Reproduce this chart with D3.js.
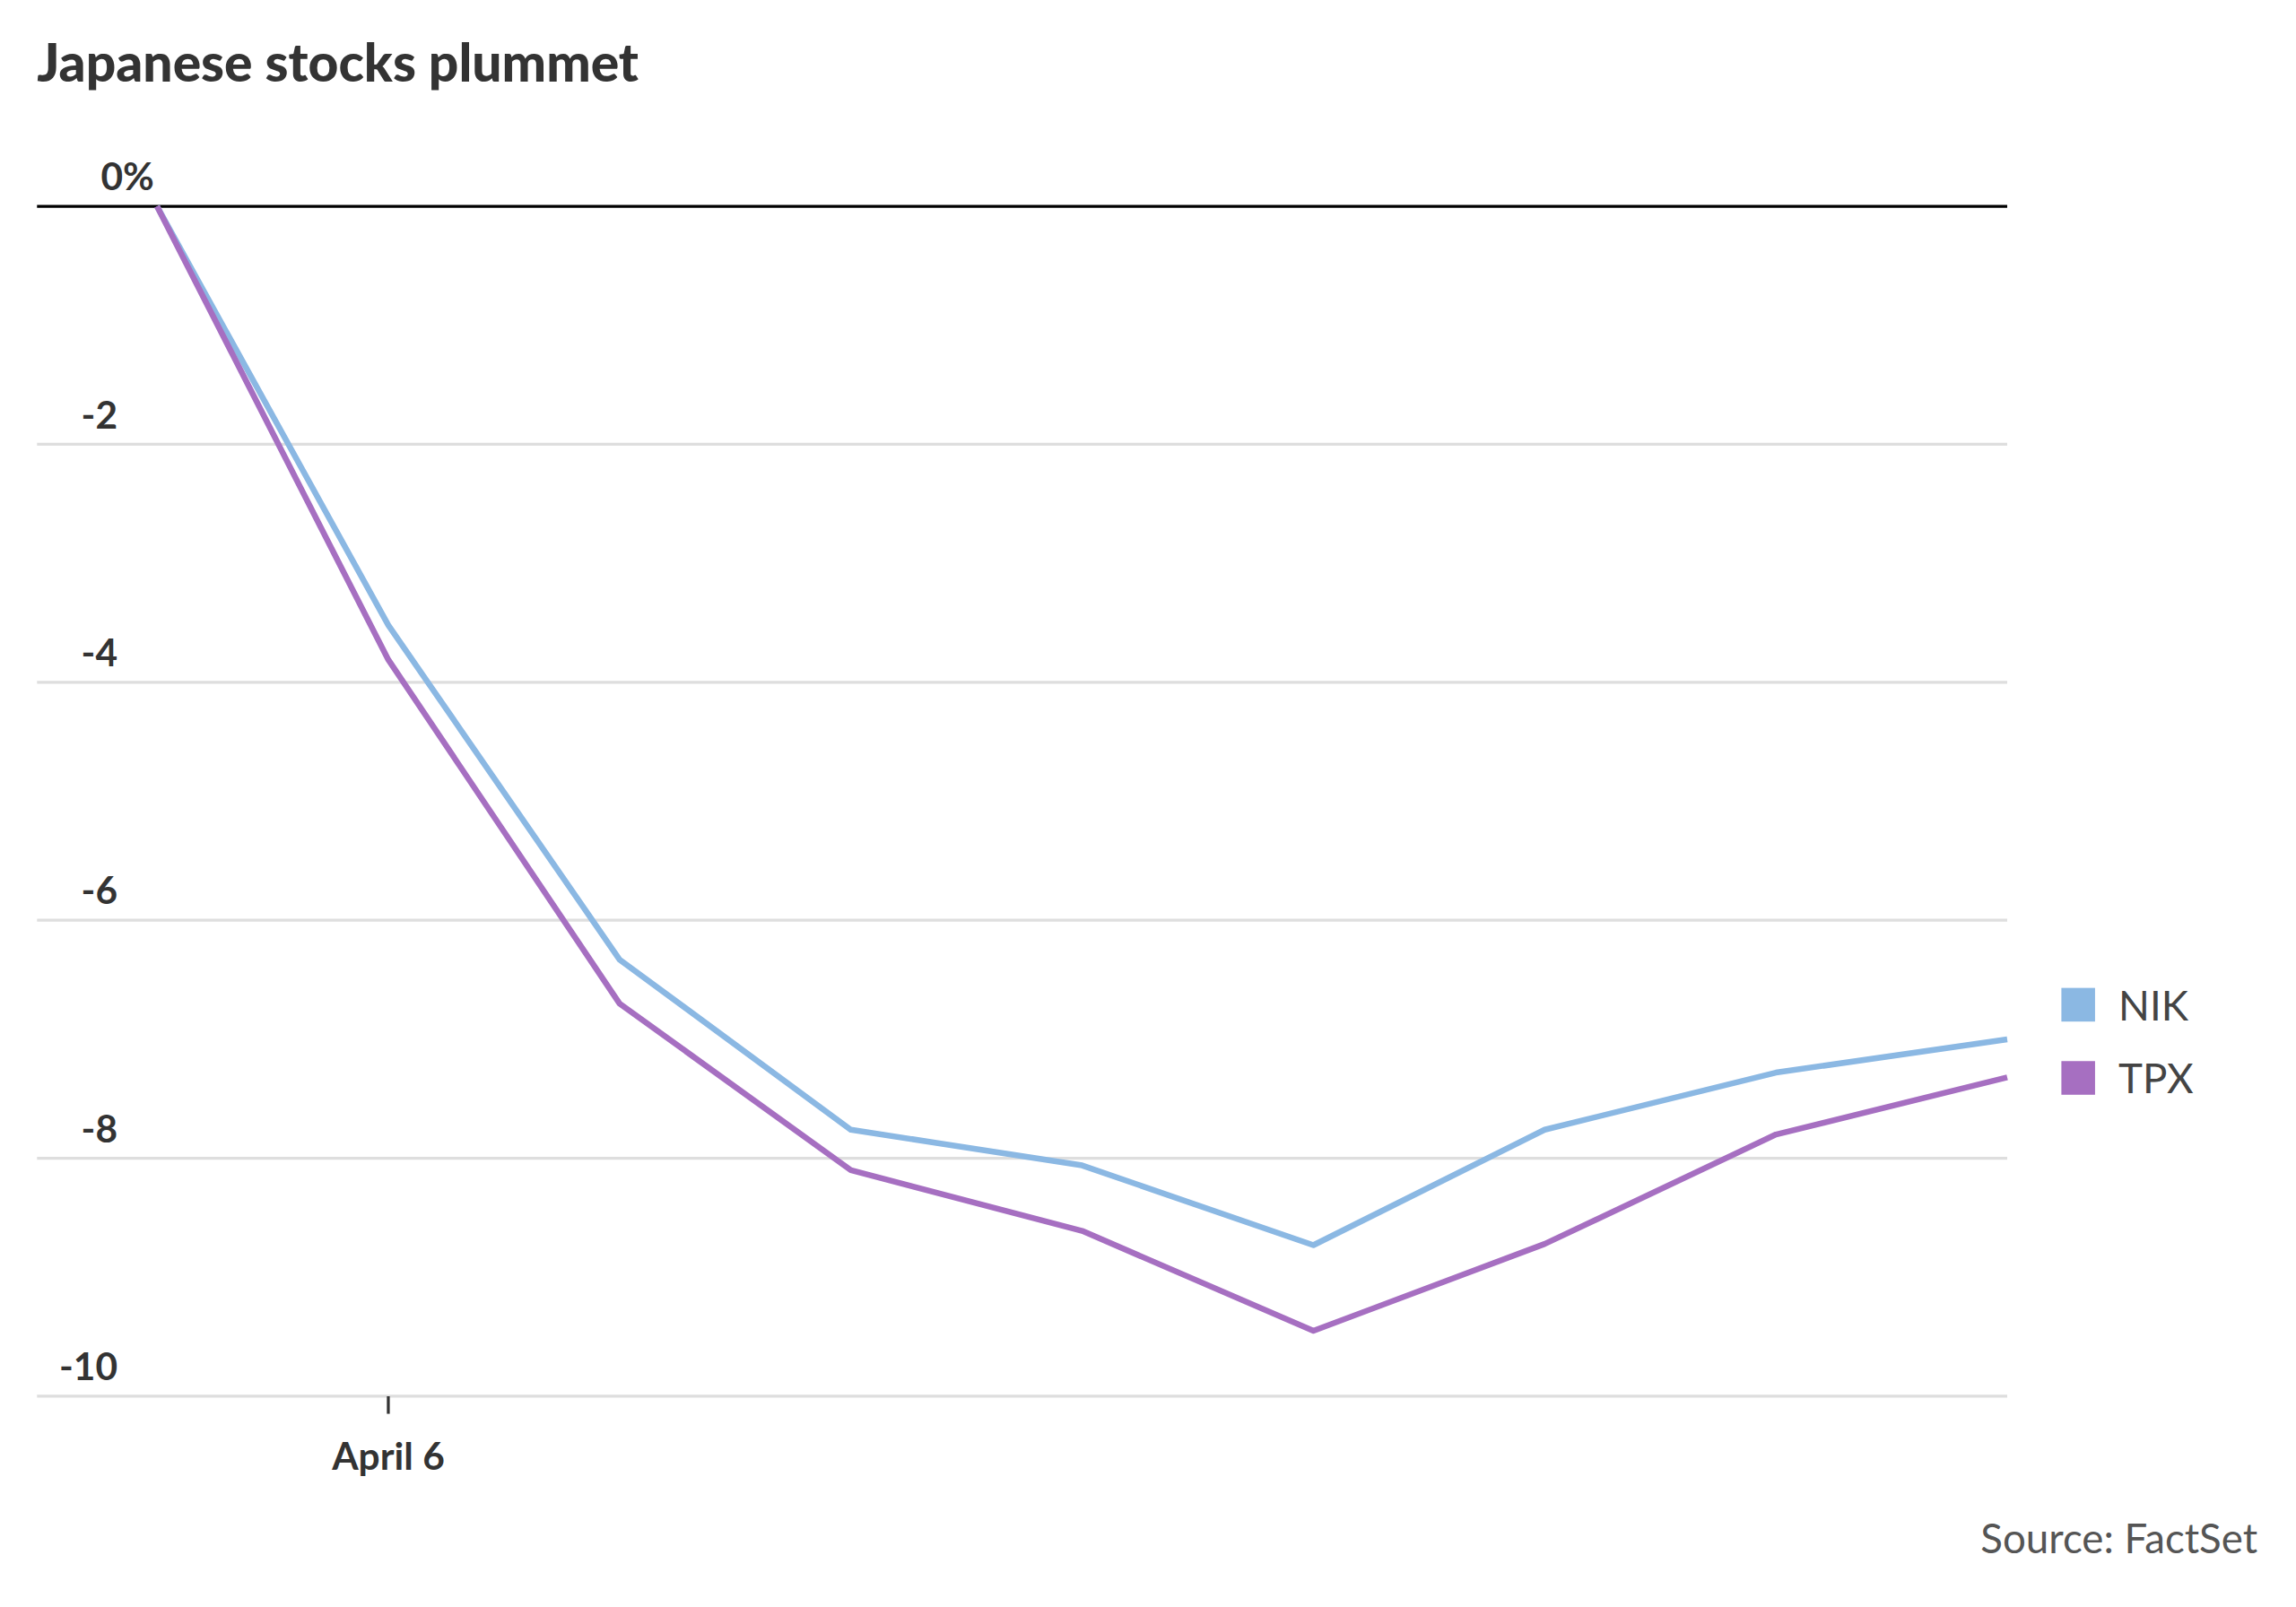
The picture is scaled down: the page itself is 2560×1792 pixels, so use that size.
<!DOCTYPE html>
<html>
<head>
<style>
  body { margin: 0; background: #fff; }
  text { font-family: Lato, sans-serif; }
</style>
<title>Japanese stocks plummet</title>
</head>
<body>
<script src="https://cdn.jsdelivr.net/npm/d3@7"></script>
<script>
// data
var days = [0, 1, 2, 3, 4, 5, 6, 7, 8];          // trading day index, April 6 = 1
var nik = [0, -3.52, -6.33, -7.76, -8.06, -8.73, -7.76, -7.28, -7.0];
var tpx = [0, -3.81, -6.70, -8.10, -8.61, -9.45, -8.72, -7.80, -7.32];
var yTicks = [0, -2, -4, -6, -8, -10];
var xTicks = [1];
var xTickLabels = ["April 6"];
var seriesNames = ["NIK", "TPX"];
var seriesColors = ["#8bb8e3", "#a66fc1"];

var W = 1568, H = 1098;
var svg = d3.select("body").append("svg")
  .attr("width", 2560).attr("height", 1792)
  .attr("viewBox", "0 0 " + W + " " + H);

var x = d3.scaleLinear().domain([0, 8]).range([107, 1371]);
var y = d3.scaleLinear().domain([0, -10]).range([141, 954]);

// gridlines + y labels
yTicks.forEach(function (t) {
  svg.append("line")
    .attr("x1", 25).attr("x2", 1371)
    .attr("y1", y(t)).attr("y2", y(t))
    .attr("stroke", t === 0 ? "#000" : "#dedede")
    .attr("stroke-width", t === 0 ? 2 : 2);
  svg.append("text")
    .attr("x", t === 0 ? 105 : 80)
    .attr("y", y(t) - 11)
    .attr("text-anchor", "end")
    .attr("font-size", 26).attr("font-weight", 700)
    .attr("fill", "#333")
    .text(t === 0 ? "0%" : t);
});

// x axis tick
xTicks.forEach(function (t, i) {
  svg.append("line")
    .attr("x1", x(t)).attr("x2", x(t))
    .attr("y1", 954).attr("y2", 966)
    .attr("stroke", "#333").attr("stroke-width", 2);
  svg.append("text")
    .attr("x", x(t)).attr("y", 1004)
    .attr("text-anchor", "middle")
    .attr("font-size", 26).attr("font-weight", 700)
    .attr("fill", "#333")
    .text(xTickLabels[i]);
});

// lines
var line = d3.line().x(function (d, i) { return x(days[i]); }).y(function (d) { return y(d); });
[nik, tpx].forEach(function (s, i) {
  svg.append("path").datum(s)
    .attr("d", line)
    .attr("fill", "none")
    .attr("stroke", seriesColors[i])
    .attr("stroke-width", 4)
    .attr("stroke-linejoin", "round");
});

// legend
seriesNames.forEach(function (n, i) {
  svg.append("rect")
    .attr("x", 1408).attr("y", 675 + i * 50)
    .attr("width", 23).attr("height", 23)
    .attr("fill", seriesColors[i]);
  svg.append("text")
    .attr("x", 1447).attr("y", 697 + i * 50)
    .attr("font-size", 28).attr("fill", "#444")
    .text(n);
});

// title and source
svg.append("text")
  .attr("x", 25).attr("y", 56)
  .attr("font-size", 36).attr("font-weight", 900)
  .attr("fill", "#333")
  .text("Japanese stocks plummet");
svg.append("text")
  .attr("x", 1542).attr("y", 1061)
  .attr("text-anchor", "end")
  .attr("font-size", 28).attr("fill", "#555")
  .text("Source: FactSet");
</script>
</body>
</html>
